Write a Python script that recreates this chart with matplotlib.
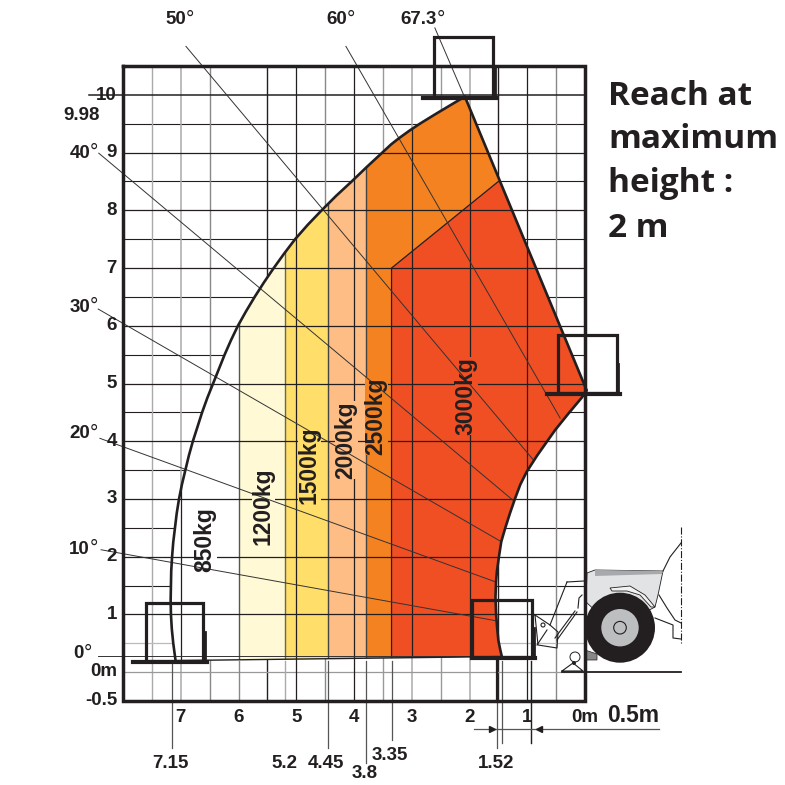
import matplotlib
matplotlib.use("Agg")
from matplotlib import pyplot as plt
from matplotlib.patches import Polygon, Circle

# Load chart values (metres)
outer_x = [7.09, 7.11, 7.13, 7.155, 7.17, 7.175, 7.17, 7.165, 7.15, 7.13, 7.10, 7.07, 7.03, 6.98, 6.92, 6.86, 6.79, 6.71, 6.63, 6.54,
           6.44, 6.34, 6.24, 6.13, 6.01, 5.87, 5.72, 5.56, 5.39, 5.21, 5.02, 4.80, 4.56, 4.31, 4.04, 3.78, 3.51, 3.36, 3.22, 3.04, 2.86, 2.60, 2.35, 2.08]
outer_y = [0.20, 0.35, 0.50, 0.75, 1.00, 1.25, 1.50, 1.75, 2.00, 2.25, 2.50, 2.75, 3.00, 3.25, 3.50, 3.75, 4.00, 4.25, 4.50, 4.75,
           5.00, 5.25, 5.50, 5.75, 6.00, 6.25, 6.50, 6.75, 7.00, 7.25, 7.50, 7.75, 8.00, 8.25, 8.50, 8.75, 9.00, 9.14, 9.25, 9.38, 9.50, 9.66, 9.81, 9.97]
inner_x = [-0.03, 0.06, 0.27, 0.52, 0.83, 1.01, 1.12, 1.21, 1.30, 1.38, 1.45, 1.49, 1.525, 1.54, 1.55, 1.54, 1.52, 1.50, 1.47, 1.44]
inner_y = [4.88, 4.75, 4.50, 4.19, 3.75, 3.47, 3.25, 3.01, 2.75, 2.50, 2.26, 2.00, 1.75, 1.57, 1.30, 1.02, 0.75, 0.55, 0.40, 0.27]

zone_left = [6.0, 5.2, 4.45, 3.8]
zone_right = [5.2, 4.45, 3.8, -0.1]
zone_colors = ["#FFFAD5", "#FFDE6A", "#FDBD85", "#F58220"]
red_x = [3.35, 3.35, 1.50, -0.2, -0.2]
red_y = [0.0, 7.0, 8.5, 8.5, 0.0]
red_color = "#F04E23"

angle_names = ["0", "10", "20", "30", "40", "50", "60", "67.3"]
angle_x0 = [8.43, 8.38, 8.40, 8.43, 8.42, 6.91, 4.14, 2.60]
angle_y0 = [0.28, 2.12, 4.05, 6.29, 8.99, 10.84, 10.84, 11.16]
angle_x1 = [1.45, 1.54, 1.54, 1.45, 1.25, 0.906, 0.43, 2.08]
angle_y1 = [0.28, 0.89, 1.56, 2.26, 2.98, 3.69, 4.40, 9.95]
angle_lab_x = [84, 90, 90, 90, 90, 186, 347, 437]
angle_lab_y = [652, 547, 432, 305, 151, 18, 18, 18]

load_names = ["850kg", "1200kg", "1500kg", "2000kg", "2500kg", "3000kg"]
load_lab_x = [205, 263, 309, 346, 376, 466]
load_lab_y = [540, 506, 465, 440, 416, 396]
load_back = ["white", "#FFFAD5", "#FFDE6A", "#FDBD85", "#F58220", "#F04E23"]

y_ticks = [10, 9, 8, 7, 6, 5, 4, 3, 2, 1, 0, -0.5]
y_labels = ["10", "9", "8", "7", "6", "5", "4", "3", "2", "1", "0m", "-0.5"]
x_ticks = [7, 6, 5, 4, 3, 2, 1, 0]
x_labels = ["7", "6", "5", "4", "3", "2", "1", "0m"]

mark_labels = ["7.15", "5.2", "4.45", "3.8", "3.35", "1.52"]
mark_lab_x = [170, 284, 326, 365, 390, 496]
mark_lab_y = [763, 763, 763, 774, 755, 763]
ext_x = [7.15, 4.45, 3.8, 3.35, 1.53, 1.44, 0.93]
ext_y = [-1.32, -1.32, -1.58, -1.18, -1.32, -1.23, -1.23]

half_h = [9.5, 8.5, 7.5, 6.5, 5.5, 4.5, 3.5, 2.5, 1.5]
half_v = [7.5, 6.5, 5.5, 4.5, 3.5, 2.5, 1.5, 0.5]
half_v_col = ["#aaaaaa", "#888888", "#231f20", "#888888", "#999999", "#999999", "#231f20", "#888888"]
full_h = [9, 8, 7, 6, 5, 4, 3, 2, 1]
through_v = [5, 4, 1]
grey_v = [7, 3, 2]

# Load boxes (left x, right x, bottom y, top y)
box_l = [2.61, 0.47, 7.61, 1.95]
box_r = [1.59, -0.55, 6.61, 0.92]
box_b = [9.97, 4.84, 0.19, 0.26]
box_t = [11.0, 5.84, 1.19, 1.25]
base_l = [2.81, 0.66, 7.83, 1.95]

title_lines = ["Reach at", "maximum", "height :", "2 m"]
title_y = [105, 148, 192, 237]

DARK = "#231f20"
plt.rcParams["font.family"] = ["Liberation Sans", "DejaVu Sans"]
plt.rcParams["font.weight"] = "bold"

fig = plt.figure(figsize=(7.85, 7.85), dpi=100)
ax = fig.add_axes([123 / 785, 1 - 701 / 785, 462 / 785, 635 / 785])
ax.set_xlim(8, 0)
ax.set_ylim(-0.5, 10.5)
ax.set_xticks([])
ax.set_yticks([])
for s in ax.spines.values():
    s.set_visible(False)

# Overlay in picture pixels, for the grid gaps and the machine sketch
ov = fig.add_axes([0, 0, 1, 1], facecolor="none")
ov.set_xlim(0, 785)
ov.set_ylim(785, 0)
ov.axis("off")
ov.set_zorder(3)
ax.set_zorder(2)

# Grid under the zones
for y in half_h:
    ax.plot([8, 0], [y, y], color=DARK, lw=0.8, zorder=1)
for x, c in zip(half_v, half_v_col):
    ax.plot([x, x], [-0.5, 10.5], color=c, lw=1.0, zorder=1)
for x in grey_v:
    ax.plot([x, x], [-0.5, 10.5], color="#aaaaaa", lw=1.1, zorder=1)
ax.plot([8, 0], [0, 0], color="#999999", lw=0.9, zorder=1)
ax.plot([8, 0], [0.5, 0.5], color="#bbbbbb", lw=0.9, zorder=1)

# Working area and load zones
env_x = outer_x + inner_x
env_y = outer_y + inner_y
env = Polygon(list(zip(env_x, env_y)), closed=True, fc="white", ec="none", zorder=2)
ax.add_patch(env)
for l, r, c in zip(zone_left, zone_right, zone_colors):
    z = ax.fill([l, r, r, l], [0, 0, 11, 11], color=c, lw=0, zorder=2.1)[0]
    z.set_clip_path(env)
z = ax.fill(red_x, red_y, color=red_color, ec=DARK, lw=0.9, zorder=2.2)[0]
z.set_clip_path(env)
for x, c in zip([6.0, 5.2, 4.45, 3.8], ["#555555", "#666655", "#444444", "#444444"]):
    line, = ax.plot([x, x], [0, 11], color=c, lw=1.0, zorder=3)
    line.set_clip_path(env)
ax.plot([6.0, 6.0], [-0.5, 0.2], color="#888888", lw=1.0, zorder=3)
ax.plot([5.2, 5.2], [-0.5, 0.2], color="#aaaaaa", lw=1.0, zorder=3)

# Whole metre lines
ax.plot([8.59, 0], [10, 10], color=DARK, lw=1.1, zorder=4, clip_on=False)
for y in full_h:
    ax.plot([8, 0], [y, y], color=DARK, lw=0.9, zorder=4)
for x in through_v:
    ax.plot([x, x], [-0.5, 10.5], color=DARK, lw=0.9, zorder=4)
for x in grey_v:
    line, = ax.plot([x, x], [0, 11], color=DARK, lw=0.9, zorder=4)
    line.set_clip_path(env)

# Gaps in the grid behind the load names
for name, px, py, back in zip(load_names, load_lab_x, load_lab_y, load_back):
    ov.text(px, py, name, rotation=90, ha="center", va="center", fontsize=16.5, color="none",
            bbox=dict(fc=back, ec="none", pad=0), zorder=1)

# Angle lines drawn in a third axes above the gaps
top = fig.add_axes(ax.get_position(), facecolor="none")
top.set_xlim(8, 0)
top.set_ylim(-0.5, 10.5)
top.axis("off")
top.set_zorder(4)
for a, b, c, d in zip(angle_x0, angle_x1, angle_y0, angle_y1):
    top.plot([a, b], [c, d], color="#333333", lw=0.7, clip_on=False, zorder=5)

# Envelope outline
top.plot(outer_x + inner_x, outer_y + inner_y, color=DARK, lw=1.9, clip_on=False, zorder=6, solid_joinstyle="round")
top.plot([1.44, 7.09], [0.27, 0.2], color=DARK, lw=1.0, zorder=6)

# Frame, above the gaps
top.plot([8, 0, 0, 8, 8], [10.5, 10.5, -0.5, -0.5, 10.5], color=DARK, lw=2.5, clip_on=False, zorder=6, solid_joinstyle="miter")

# Load boxes
for l, r, b, t, bl in zip(box_l, box_r, box_b, box_t, base_l):
    top.plot([l, l, r, r, l], [b, t, t, b, b], color=DARK, lw=2.3, clip_on=False, zorder=7, solid_joinstyle="miter")
    top.plot([bl, r - 0.06], [b - 0.02, b - 0.02], color=DARK, lw=3.0, clip_on=False, zorder=7)
    top.plot([r - 0.03, r - 0.03], [b, b + 0.5], color=DARK, lw=2.0, clip_on=False, zorder=7)

# Lines down to the dimension labels
for x, y in zip(ext_x, ext_y):
    top.plot([x, x], [0.2, y], color="#555555", lw=0.9, clip_on=False, zorder=5)
top.plot([1.53, 1.53], [0.2, -0.5], color=DARK, lw=1.6, zorder=5)
top.plot([0.93, 0.93], [0.2, -1.23], color=DARK, lw=0.9, clip_on=False, zorder=5)
top.plot([1.92, -1.28], [-0.99, -0.99], color="#555555", lw=0.9, clip_on=False, zorder=5)
top.plot([1.61], [-0.99], marker=">", color=DARK, ms=4, clip_on=False, zorder=5)
top.plot([0.80], [-0.99], marker="<", color=DARK, ms=4, clip_on=False, zorder=5)

# Text, on a last overlay
txt = fig.add_axes([0, 0, 1, 1], facecolor="none")
txt.set_xlim(0, 785)
txt.set_ylim(785, 0)
txt.axis("off")
txt.set_zorder(5)
for name, px, py in zip(load_names, load_lab_x, load_lab_y):
    txt.text(px, py, name, rotation=90, ha="center", va="center", fontsize=16.5, color=DARK)
for name, px, py in zip(angle_names, angle_lab_x, angle_lab_y):
    txt.text(px, py + 6.5, name, ha="right", va="baseline", fontsize=13.5, color=DARK)
    txt.text(px, py + 6.5, "°", ha="left", va="baseline", fontsize=15, fontweight="normal", color=DARK)
for v, lab in zip(y_ticks, y_labels):
    txt.text(117, 672 - v * 57.7, lab, ha="right", va="center", fontsize=13.5, color=DARK)
txt.text(82, 115, "9.98", ha="center", va="center", fontsize=13.5, color=DARK)
for v, lab in zip(x_ticks, x_labels):
    txt.text(585 - v * 57.75, 717, lab, ha="center", va="center", fontsize=13.5, color=DARK)
txt.text(633, 716, "0.5m", ha="center", va="center", fontsize=16.5, color=DARK)
for lab, px, py in zip(mark_labels, mark_lab_x, mark_lab_y):
    txt.text(px, py, lab, ha="center", va="center", fontsize=13.5, color=DARK)
for line, py in zip(title_lines, title_y):
    txt.text(608, py, line, ha="left", va="baseline", fontsize=24, color=DARK, family=["Open Sans", "DejaVu Sans"])

# Machine sketch
body = [(587, 573), (595, 570), (663, 571), (658, 595), (655, 607), (640, 615), (600, 615), (586, 602)]
ov.add_patch(Polygon(body, closed=True, fc="#e2e3e4", ec=DARK, lw=0.6, zorder=2))
strip = [(595, 570), (663, 571), (662, 574), (595, 576)]
ov.add_patch(Polygon(strip, closed=True, fc="#a7a9ac", ec="none", zorder=2))
fender = [(610, 588), (630, 586), (645, 595), (655, 607), (651, 607), (640, 595), (627, 591), (612, 591)]
ov.add_patch(Polygon(fender, closed=True, fc="#f2f2f2", ec=DARK, lw=0.6, zorder=2))
ov.add_patch(Polygon([(585, 650), (597, 654), (597, 660), (586, 660)], closed=True, fc="#888888", ec=DARK, lw=0.5, zorder=2))
sketch = [
    ([663, 670, 681], [571, 557, 543]),
    ([659, 667, 675, 681], [595, 608, 620, 623]),
    ([655, 673, 673, 681], [618, 625, 638, 639]),
    ([567, 584], [582, 581]),
    ([567, 550], [582, 625]),
    ([575, 555], [611, 638]),
    ([577, 557], [612, 640]),
    ([582, 579, 578], [595, 598, 608]),
    ([535, 550, 558, 557, 538, 535], [615, 625, 632, 648, 645, 615]),
    ([537, 547], [645, 630]),
    ([562, 573, 583, 562], [671, 663, 671, 671]),
]
for xs, ys in sketch:
    ov.plot(xs, ys, color=DARK, lw=0.8, zorder=2)
ov.add_patch(Circle((575, 657), 5, fc="white", ec=DARK, lw=0.7, zorder=2))
ov.add_patch(Circle((574, 663), 2, fc=DARK, ec="none", zorder=2))
ov.add_patch(Circle((543, 625), 2, fc="white", ec=DARK, lw=0.8, zorder=2))
ov.add_patch(Circle((620, 627.7), 35, fc=DARK, ec="none", zorder=2))
ov.add_patch(Circle((620, 627.7), 18.7, fc="#bcbec0", ec="none", zorder=2))
ov.add_patch(Circle((620, 627.7), 6.3, fc="none", ec=DARK, lw=0.8, zorder=2))
ov.plot([562, 681], [672, 672], color=DARK, lw=1.3, zorder=2)
ov.plot([681.3, 681.3], [527, 643], color=DARK, lw=0.8, ls="-.", zorder=2)

fig.savefig("out.png", dpi=100)
